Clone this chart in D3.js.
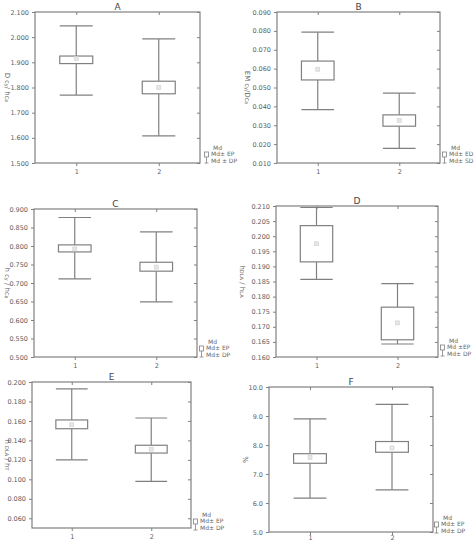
<!DOCTYPE html>
<html><head><meta charset="utf-8">
<script src="https://cdn.jsdelivr.net/npm/d3@7"></script>
<style>body{margin:0;background:#fff}svg{display:block}text{font-family:"DejaVu Sans",sans-serif;fill:#666}</style>
</head><body>
<svg id="c" width="474" height="543"></svg>
<script>
const categories = ["1", "2"];
const titles = ["A", "B", "C", "D", "E", "F"];
const yLabels = [["D ","Cy","/ h","Ca"],["EM ","Cy","/D","Ca"],["h ","Cy"," / h","Ca"],["h","DLA"," / h","LA"],["h ","DLA"," / h","T"],["%"]];
const yDomains = [[1.5,2.1],[0.01,0.09],[0.5,0.9],[0.16,0.21],[0.05,0.2],[5,10]];
const yTicks = [
  [1.5,1.6,1.7,1.8,1.9,2.0,2.1],
  [0.01,0.02,0.03,0.04,0.05,0.06,0.07,0.08,0.09],
  [0.5,0.55,0.6,0.65,0.7,0.75,0.8,0.85,0.9],
  [0.16,0.165,0.17,0.175,0.18,0.185,0.19,0.195,0.2,0.205,0.21],
  [0.06,0.08,0.1,0.12,0.14,0.16,0.18,0.2],
  [5,6,7,8,9,10]
];
const tickFormats = [".3f",".3f",".3f",".3f",".3f",".1f"];
// median per group
const medianA = [1.915, 1.800], medianB = [0.0597, 0.0325], medianC = [0.792, 0.743];
const medianD = [0.1975, 0.1713], medianE = [0.156, 0.131], medianF = [7.57, 7.90];
// box (Md ± EP): [low, high]
const boxA = [[1.895,1.925],[1.775,1.825]];
const boxB = [[0.054,0.064],[0.0295,0.0355]];
const boxC = [[0.784,0.803],[0.732,0.756]];
const boxD = [[0.1915,0.2035],[0.1657,0.1765]];
const boxE = [[0.152,0.161],[0.127,0.135]];
const boxF = [[7.37,7.70],[7.75,8.12]];
// whiskers (Md ± DP): [low, high]
const whiskA = [[1.770,2.045],[1.608,1.993]];
const whiskB = [[0.0383,0.0793],[0.0178,0.0470]];
const whiskC = [[0.711,0.877],[0.649,0.838]];
const whiskD = [[0.1857,0.2095],[0.1643,0.1843]];
const whiskE = [[0.120,0.193],[0.098,0.163]];
const whiskF = [[6.17,8.90],[6.45,9.40]];
const legendLabels = [["Md","Md± EP","Md ± DP"],["Md","Md± ED","Md± SD"],["Md","Md± EP","Md± DP"],["Md","Md ±EP","Md± DP"],["Md","Md± EP","Md± DP"],["Md","Md± EP","Md± DP"]];

const medians = [medianA,medianB,medianC,medianD,medianE,medianF];
const boxes = [boxA,boxB,boxC,boxD,boxE,boxF];
const whisks = [whiskA,whiskB,whiskC,whiskD,whiskE,whiskF];

// layout
const layout = [
  {x0:35,x1:200,y0:12,y1:163,lx:5,leg:[204,146],tp:3},
  {x0:277,x1:440,y0:12,y1:163,lx:245,leg:[442,146],tp:3},
  {x0:34,x1:197,y0:209,y1:357,lx:5,leg:[199,340],tp:3},
  {x0:276,x1:438,y0:206,y1:357,lx:240,leg:[440,339],tp:3},
  {x0:32,x1:191,y0:382,y1:528,lx:5,leg:[193,513],tp:3},
  {x0:269,x1:433,y0:387,y1:532,lx:243,leg:[434,516],tp:0}
];
const line = "#808080";
const svg = d3.select("#c");

layout.forEach((L, i) => {
  const g = svg.append("g");
  const x = d3.scalePoint().domain(categories).range([L.x0, L.x1]).padding(0.5);
  const y = d3.scaleLinear().domain(yDomains[i]).range([L.y1, L.y0]);
  const bw = (L.x1 - L.x0) * 0.2;

  // frame
  g.append("rect").attr("x", L.x0).attr("y", L.y0).attr("width", L.x1 - L.x0).attr("height", L.y1 - L.y0)
    .attr("fill", "none").attr("stroke", line).attr("stroke-width", 1.2);

  // y axis
  const ya = d3.axisLeft(y).tickValues(yTicks[i]).tickFormat(d3.format(tickFormats[i])).tickSize(3).tickPadding(3);
  const yg = g.append("g").attr("transform", `translate(${L.x0},0)`).call(ya);
  yg.select(".domain").remove();
  yg.selectAll("line").attr("stroke", line);
  yg.selectAll("text").attr("font-size", 6.5).style("fill", "#5e5e5e");
  // inner right ticks
  const yr = d3.axisLeft(y).tickValues(yTicks[i]).tickFormat("").tickSize(3);
  const yrg = g.append("g").attr("transform", `translate(${L.x1},0)`).call(yr);
  yrg.select(".domain").remove(); yrg.selectAll("line").attr("stroke", line);

  // x axis
  const xa = d3.axisBottom(x).tickSize(3).tickPadding(L.tp);
  const xg = g.append("g").attr("transform", `translate(0,${L.y1})`).call(xa);
  xg.select(".domain").remove();
  xg.selectAll("line").attr("stroke", line);
  xg.selectAll("text").attr("font-size", 6.5).style("fill", "#5e5e5e");
  const xt = d3.axisBottom(x).tickSize(3).tickFormat("");
  const xtg = g.append("g").attr("transform", `translate(0,${L.y0})`).call(xt);
  xtg.select(".domain").remove(); xtg.selectAll("line").attr("stroke", line);

  // title
  g.append("text").attr("x", (L.x0 + L.x1) / 2).attr("y", L.y0 - 2).attr("text-anchor", "middle")
    .attr("font-size", 9).style("fill", "#444").text(titles[i]);

  // y label
  const yl = g.append("text").attr("transform", `translate(${L.lx},${(L.y0 + L.y1) / 2}) rotate(90)`)
    .attr("text-anchor", "middle").attr("font-size", 7).style("fill", "#5e5e5e");
  yLabels[i].forEach((s, k) => {
    yl.append("tspan").attr("font-size", k % 2 === 1 ? 5 : 7).text(s);
  });

  // whiskers and boxes
  categories.forEach((c, j) => {
    const cx = x(c);
    const [wl, wh] = whisks[i][j];
    const [bl, bh] = boxes[i][j];
    g.append("line").attr("x1", cx).attr("x2", cx).attr("y1", y(wh)).attr("y2", y(bh)).attr("stroke", line).attr("stroke-width", 1.2);
    g.append("line").attr("x1", cx).attr("x2", cx).attr("y1", y(bl)).attr("y2", y(wl)).attr("stroke", line).attr("stroke-width", 1.2);
    [wl, wh].forEach(v => g.append("line").attr("x1", cx - bw / 2).attr("x2", cx + bw / 2)
      .attr("y1", y(v)).attr("y2", y(v)).attr("stroke", line).attr("stroke-width", 1.2));
    g.append("rect").attr("x", cx - bw / 2).attr("y", y(bh)).attr("width", bw).attr("height", y(bl) - y(bh))
      .attr("fill", "#fff").attr("stroke", line).attr("stroke-width", 1.2);
    g.append("rect").attr("x", cx - 2).attr("y", y(medians[i][j]) - 2).attr("width", 4).attr("height", 4)
      .attr("fill", "#e6e6e6").attr("stroke", "#d0d0d0").attr("stroke-width", 0.6);
  });

  // legend
  const [lgx, lgy] = L.leg;
  const lg = g.append("g").attr("transform", `translate(${lgx},${lgy})`);
  lg.append("text").attr("x", 9).attr("y", 4).attr("font-size", 6).text(legendLabels[i][0]);
  lg.append("rect").attr("x", 0.5).attr("y", 6).attr("width", 4).attr("height", 5).attr("fill", "#fff").attr("stroke", line).attr("stroke-width", 0.8);
  lg.append("text").attr("x", 7).attr("y", 10).attr("font-size", 6).text(legendLabels[i][1]);
  lg.append("line").attr("x1", 2.5).attr("x2", 2.5).attr("y1", 11).attr("y2", 17).attr("stroke", line).attr("stroke-width", 0.8);
  lg.append("line").attr("x1", 0.5).attr("x2", 4.5).attr("y1", 17).attr("y2", 17).attr("stroke", line).attr("stroke-width", 0.8);
  lg.append("text").attr("x", 7).attr("y", 16.5).attr("font-size", 6).text(legendLabels[i][2]);
});
</script>
</body></html>
